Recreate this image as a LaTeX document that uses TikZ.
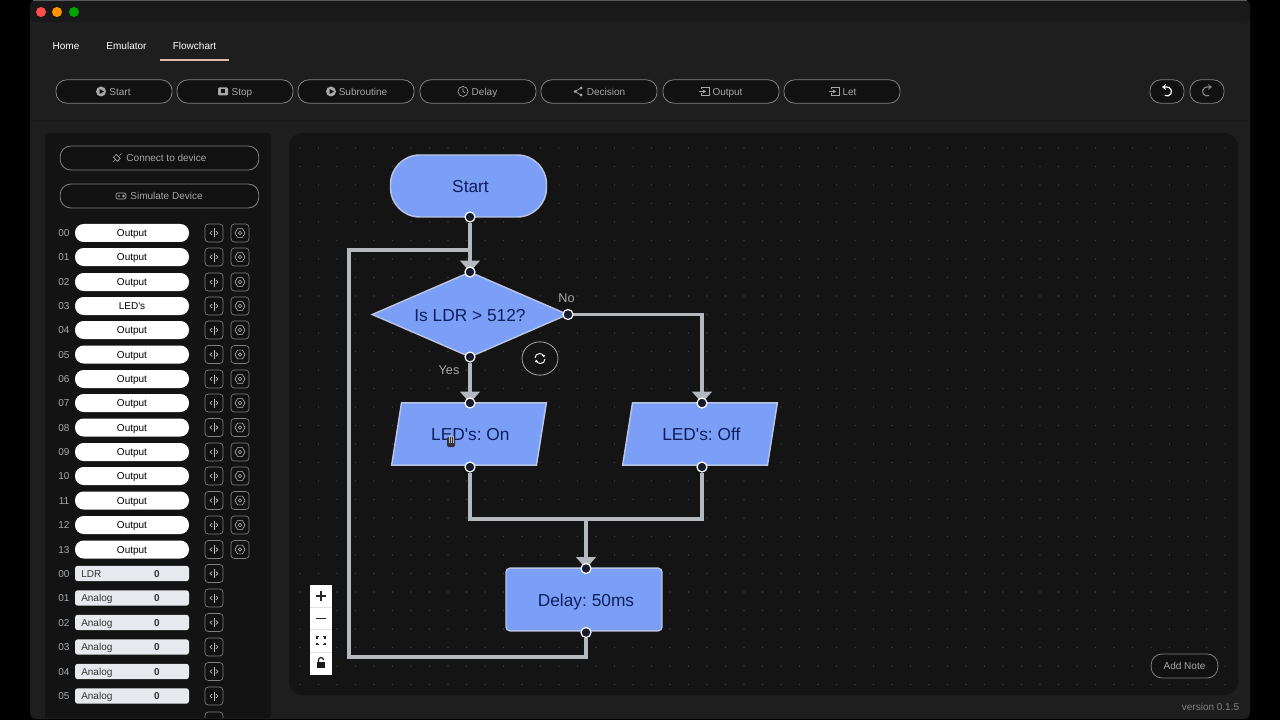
\documentclass[tikz,border=0pt]{standalone}
\usepackage{fontspec}
\setmainfont{Liberation Sans}
\usetikzlibrary{shapes.geometric,arrows.meta,backgrounds}
\definecolor{winbg}{HTML}{1E1E1E}
\definecolor{barbg}{HTML}{191919}
\definecolor{canvasbg}{HTML}{141414}
\definecolor{panelbg}{HTML}{131313}
\definecolor{btnbg}{HTML}{111111}
\definecolor{btnline}{HTML}{808080}
\definecolor{btntext}{HTML}{A8A8A8}
\definecolor{griddot}{HTML}{3A3A3A}
\definecolor{blockfill}{HTML}{7B9EF7}
\definecolor{blockline}{HTML}{B9C4E4}
\definecolor{blocktext}{HTML}{0E1F5E}
\definecolor{edgeline}{HTML}{B4B8BF}
\definecolor{handlefill}{HTML}{161B2E}
\definecolor{tabline}{HTML}{DDBBA4}
\definecolor{analogfill}{HTML}{E6E9ED}
\definecolor{icongrey}{HTML}{BDBDBD}
\tikzset{
  block/.style={draw=blockline,fill=blockfill,line width=1.1pt,text=blocktext,font=\fontsize{13}{15}\selectfont,inner sep=0pt,text height=10.2pt,text depth=0pt},
  startblock/.style={block,rectangle,rounded corners=22pt,minimum width=117pt,minimum height=46.5pt},
  decisionblock/.style={block,diamond,aspect=2.3,minimum width=147pt,minimum height=64pt},
  ioblock/.style={block,trapezium,trapezium left angle=81,trapezium right angle=99,trapezium stretches body=true,inner ysep=18.2pt,minimum width=116pt},
  delayblock/.style={block,rectangle,rounded corners=3pt,minimum width=117pt,minimum height=47pt},
  handle/.style={circle,draw=white,fill=handlefill,line width=.9pt,minimum size=7.5pt,inner sep=0pt},
  flow/.style={draw=edgeline,line width=2.8pt},
  flowtip/.style={flow,-{Triangle[length=8.5pt,width=14.5pt,fill=edgeline]}},
  edgelabel/.style={text=btntext,font=\fontsize{9.5}{11}\selectfont,inner sep=0pt,text height=6.8pt,text depth=0pt},
  tabtext/.style={text=white,font=\fontsize{7.5}{9}\selectfont,inner sep=0pt,text height=5.4pt,text depth=0pt},
  toolbtn/.style={draw=btnline,fill=btnbg,line width=.6pt,rounded corners=8pt,minimum width=87pt,minimum height=17.5pt,inner sep=0pt},
  sidebtn/.style={toolbtn,minimum width=149pt,minimum height=18pt},
  roundbtn/.style={toolbtn,minimum width=25.5pt},
  btntxt/.style={text=btntext,font=\fontsize{7.5}{9}\selectfont,inner sep=0pt,text height=5.4pt,text depth=0pt},
  pinnum/.style={btntxt},
  outpill/.style={fill=white,rounded corners=6.5pt,minimum width=85.5pt,minimum height=13.5pt,inner sep=0pt,text=black,font=\fontsize{7.5}{9}\selectfont,text height=5.4pt,text depth=0pt},
  analogbar/.style={fill=analogfill,rounded corners=2pt,minimum width=85.5pt,minimum height=11.5pt,inner sep=0pt},
  analogtxt/.style={text=black!80,font=\fontsize{7.5}{9}\selectfont,inner sep=0pt,text height=5.4pt,text depth=0pt},
  squarebtn/.style={draw=btnline,fill=btnbg,line width=.5pt,rounded corners=2.5pt,minimum size=13.5pt,inner sep=0pt},
  icoline/.style={draw=btntext,line width=.5pt},
  icofill/.style={fill=btntext},
  ico play/.pic={
    \fill[icofill] (0,0) circle [radius=5];
    \fill[btnbg] (-1.5,-2.5) -- (3,0) -- (-1.5,2.5) -- cycle;
  },
  ico stop/.pic={
    \fill[icofill,rounded corners=.8pt] (-5,-4) rectangle (5,4);
    \fill[btnbg] (-2,-2) rectangle (2,2);
  },
  ico clock/.pic={
    \draw[icoline] (0,0) circle [radius=5];
    \draw[icoline] (0,-3) -- (0,0) -- (2,1.5);
  },
  ico share/.pic={
    \draw[icoline] (3,-3.5) -- (-3,0) -- (3,3.5);
    \fill[icofill] (3,-3.5) circle [radius=1.5] (-3,0) circle [radius=1.5] (3,3.5) circle [radius=1.5];
  },
  ico out/.pic={
    \draw[icoline] (-3,-4) -- (5,-4) -- (5,4) -- (-3,4) -- (-3,2) (-3,-2) -- (-3,-4);
    \draw[icoline,-{Stealth[length=2.5pt,width=3pt]}] (-5,0) -- (2,0);
  },
  ico plug/.pic={
    \draw[icoline] (-4,4) -- (-1,1);
    \draw[icoline,rotate=-45] (-3,-2) rectangle (2.5,2);
    \draw[icoline] (2.5,-2.5) -- (4.5,-4.5);
  },
  ico pad/.pic={
    \draw[icoline,rounded corners=1.5pt] (-5,-3) rectangle (5,3);
    \draw[icoline] (-3,0) -- (-1,0) (-2,-1) -- (-2,1) (2.5,0) circle [radius=.8];
  },
  ico move/.pic={
    \draw[draw=icongrey,line width=.45pt] (0,-4.5) -- (0,4.5);
    \draw[draw=icongrey,line width=.45pt,line join=round] (-1.8,-2) -- (-4,0) -- (-1.8,2) (1.8,-2) -- (4,0) -- (1.8,2);
  },
  ico gear/.pic={
    \draw[draw=icongrey,line width=.45pt] (0,0) circle [radius=1.8] (0:5) -- (60:5) -- (120:5) -- (180:5) -- (240:5) -- (300:5) -- cycle;
  }
}
\frenchspacing
\begin{document}
\begin{tikzpicture}[x=.75pt,y=-.75pt]
  \useasboundingbox (0,0) rectangle (1280,720);
  \begin{scope}[on background layer]
    \fill[black] (0,0) rectangle (1280,720);
    \fill[winbg,rounded corners=4pt] (30,0) rectangle (1250,719);
    \fill[barbg,rounded corners=4pt] (30,0) rectangle (1250,22);
    \draw[black!65!white,line width=.6pt] (33,.5) -- (1247,.5);
    \draw[barbg,line width=.7pt] (30,120.5) -- (1250,120.5);
    \fill[panelbg,rounded corners=2pt] (45,133) rectangle (271,718);
    \fill[canvasbg,rounded corners=10pt] (289,133) rectangle (1238,695);
    \foreach \gx in {0,...,50}
      \foreach \gy in {0,...,29}
        \fill[griddot] ({300+18.5*\gx},{148+18.5*\gy}) circle [radius=.8];
    \coordinate (merge) at (586,519);
    \coordinate (loopbl) at (349,657);
    \coordinate (looptl) at (349,250);
    \coordinate (loopend) at (470,250);
    \coordinate (delayturn) at (586,657);
  \end{scope}

  \fill[red!70!white] (41,12) circle [radius=5];
  \fill[orange!85!yellow] (57,12) circle [radius=5];
  \fill[green!65!black] (74,12) circle [radius=5];

  \node[tabtext] (tabhome) at (66,45.5) {Home};
  \node[tabtext] (tabemu) at (126.5,45.5) {Emulator};
  \node[tabtext] (tabflow) at (194.5,45.5) {Flowchart};
  \draw[tabline,line width=.8pt] (160,60) -- (229,60);

  \foreach \nm/\lab/\bx/\ico/\ix/\tx in {start/Start/114/ico play/101/120,
      stop/Stop/235/ico stop/223/242,
      sub/Subroutine/356/ico play/331/363,
      delay/Delay/478/ico clock/463/484.5,
      decide/Decision/599/ico share/578/606,
      out/Output/721/ico out/704/727.5,
      let/Let/842/ico out/834/849.5} {
    \node[toolbtn] (btn\nm) at (\bx,91.5) {};
    \node[btntxt] (txt\nm) at (\tx,91.5) {\lab};
    \pic at (\ix,91.5) {\ico};
  }

  \node[roundbtn] (undo) at (1167,91.5) {};
  \node[roundbtn] (redo) at (1207,91.5) {};
  \draw[white,line width=.9pt,-{Stealth[length=3pt,width=4.5pt]}] (1164.75,95.4) arc [start angle=120,end angle=-90,radius=4.5] -- (1162,87);
  \draw[btnline,line width=.9pt,-{Stealth[length=3pt,width=4.5pt]}] (1209.25,95.4) arc [start angle=60,end angle=270,radius=4.5] -- (1212,87);

  \node[sidebtn] (connect) at (159.5,158) {};
  \node[btntxt] (connecttxt) at (166.5,158) {Connect to device};
  \pic at (117,158) {ico plug};
  \node[sidebtn] (simulate) at (159.5,196) {};
  \node[btntxt] (simulatetxt) at (166.5,196) {Simulate Device};
  \pic at (121,196) {ico pad};

  \foreach \n/\lab/\yy in {00/Output/233,01/Output/257,02/Output/282,03/LED\textquotesingle s/306,04/Output/330,
      05/Output/354.5,06/Output/379,07/Output/403,08/Output/427.5,09/Output/452,
      10/Output/476,11/Output/500.5,12/Output/525,13/Output/549.5} {
    \node[pinnum] (num\n) at (64,\yy) {\n};
    \node[outpill] (pill\n) at (132,\yy) {\lab};
    \node[squarebtn] (move\n) at (214,\yy) {};
    \node[squarebtn] (gear\n) at (240,\yy) {};
    \pic at (214,\yy) {ico move};
    \pic at (240,\yy) {ico gear};
  }
  \foreach \n/\lab/\yy in {00/LDR/573.5,01/Analog/598,02/Analog/622.5,03/Analog/647,04/Analog/671.5,05/Analog/696} {
    \node[pinnum] (anum\n) at (64,\yy) {\n};
    \node[analogbar] (abar\n) at (132,\yy) {};
    \node[analogtxt,anchor=west] (alab\n) at (81,\yy) {\lab};
    \node[analogtxt,font=\fontsize{7.5}{9}\selectfont\bfseries] (aval\n) at (157,\yy) {0};
    \node[squarebtn] (amove\n) at (214,\yy) {};
    \pic at (214,\yy) {ico move};
  }
  \draw[btnline,fill=btnbg,line width=.5pt,rounded corners=2.5pt] (205,718) -- (205,712) -- (223,712) -- (223,718);

  \node[startblock] (start) at (468.5,186) {\hspace*{3pt}Start};
  \node[decisionblock] (decide) at (470,314.5) {Is LDR > 512?};
  \node[ioblock] (ledon) at (469,434) {\hspace*{2pt}LED\textquotesingle s: On};
  \node[ioblock] (ledoff) at (700,434) {\hspace*{2pt}LED\textquotesingle s: Off};
  \node[delayblock] (delay) at (584,599.5) {\hspace*{3pt}Delay: 50ms};

  \node[handle] (startout) at (470,217) {};
  \node[handle] (decidein) at (470,272) {};
  \node[handle] (decideyes) at (470,357) {};
  \node[handle] (decideno) at (568,314.5) {};
  \node[handle] (ledonin) at (470,403) {};
  \node[handle] (ledonout) at (470,467) {};
  \node[handle] (ledoffin) at (702,403) {};
  \node[handle] (ledoffout) at (702,467) {};
  \node[handle] (delayin) at (586,568.5) {};
  \node[handle] (delayout) at (586,632.5) {};

  \begin{scope}[on background layer]
    \draw[flow] (delayout) -- (delayturn) -- (loopbl) -- (looptl) -- (loopend);
    \draw[flowtip] (startout) -- (decidein.center);
    \draw[flowtip] (decideyes) -- (ledonin.center);
    \draw[flowtip] (decideno.center) -| (ledoffin.center);
    \draw[flow] (ledonout) |- (merge);
    \draw[flow] (ledoffout) |- (merge);
    \draw[flowtip] (merge) -- (delayin.center);
  \end{scope}

  \node[edgelabel] (nolabel) at (566.5,298) {No};
  \node[edgelabel] (yeslabel) at (449,369.5) {Yes};

  \node[draw=btntext,fill=canvasbg,ellipse,line width=.6pt,minimum width=27pt,minimum height=25pt,inner sep=0pt] (swap) at (540,358.5) {};
  \draw[white,line width=.7pt,-{Stealth[length=1.8pt,width=2.5pt]}] (535,358) arc [start angle=180,end angle=350,radius=4.5];
  \draw[white,line width=.7pt,-{Stealth[length=1.8pt,width=2.5pt]}] (545,359) arc [start angle=0,end angle=170,radius=4.5];

  \fill[black!80,rounded corners=1pt] (447,437) rectangle (455,447);
  \draw[white!75!black,line width=.35pt] (449,436) -- (449,443) (451,435) -- (451,443) (453,436) -- (453,443);

  \fill[white] (310,585) rectangle (332,675);
  \draw[black!12,line width=.4pt] (310,607) -- (332,607) (310,629) -- (332,629) (310,652) -- (332,652);
  \draw[black!85,line width=1pt] (316,596) -- (326,596) (321,591) -- (321,601);
  \draw[black!85,line width=1pt] (316,618.5) -- (326,618.5);
  \draw[black!85,line width=.9pt] (317,638.5) -- (317,636.5) -- (319,636.5) (323,636.5) -- (325,636.5) -- (325,638.5)
    (325,642.5) -- (325,644.5) -- (323,644.5) (319,644.5) -- (317,644.5) -- (317,642.5);
  \fill[black!90] (317,662) rectangle (325,668);
  \draw[black!90,line width=.9pt] (318.5,662) -- (318.5,660) arc [start angle=180,end angle=360,radius=2.5];

  \node[toolbtn,minimum width=50pt,minimum height=18pt] (addnote) at (1184.5,666) {};
  \node[btntxt] (addnotetxt) at (1184.5,666) {Add Note};
  \node[btntxt,text=btnline] (version) at (1210.5,706.5) {version 0.1.5};
\end{tikzpicture}
\end{document}
